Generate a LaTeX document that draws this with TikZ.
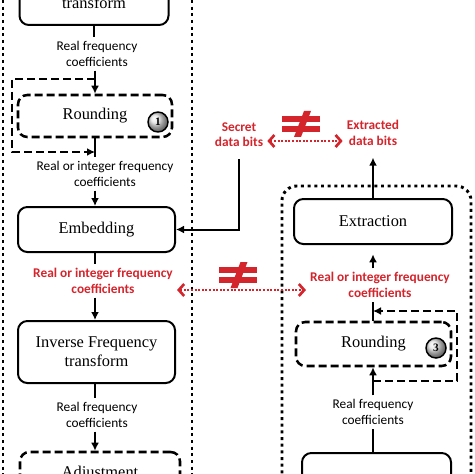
\documentclass[tikz,border=0pt]{standalone}
\usepackage{fontspec}
\setmainfont{Liberation Serif}
\newfontfamily\labelfont{Carlito}
\usetikzlibrary{arrows.meta}
\definecolor{markred}{RGB}{212,36,44}
\tikzset{
    stagebox/.style={
        draw,
        rounded corners=7pt,
        line width=1.5pt, % solid frame
        align=center,
        inner sep=0,
        font=\fontsize{12.3}{14.5}\selectfont
    },
    roundbox/.style={
        stagebox,
        line width=1.9pt,
        dash pattern=on 6pt off 3pt % dashed frame
    },
    coeflabel/.style={
        align=center,
        inner sep=3pt,
        font=\labelfont\fontsize{10}{11.5}\selectfont
    },
    redlabel/.style={
        coeflabel,
        text=markred,
        font=\labelfont\bfseries\fontsize{10}{11.5}\selectfont
    },
    stepnum/.style={
        circle,
        draw,
        line width=1.1pt,
        ball color=gray!22,
        minimum size=15pt,
        inner sep=0,
        font=\bfseries\fontsize{8.5}{8.5}\selectfont
    },
    flow/.style={line width=1.5pt, -{Latex[length=6pt,width=6pt]}},
    link/.style={line width=1.5pt},
    loopline/.style={line width=1.9pt, dash pattern=on 6pt off 3pt, -{Latex[length=6pt,width=6pt]}},
    dotframe/.style={line width=2.2pt, dash pattern=on 2.2pt off 2.8pt},
    compare/.style={
        markred,
        line width=1.5pt,
        dash pattern=on 1.5pt off 1.2pt,
        {Straight Barb[length=4pt,width=9pt,line width=2pt]}-{Straight Barb[length=4pt,width=9pt,line width=2pt]}
    },
    neqmark/.pic={
        \fill[markred] (-19,-8) rectangle (19,-2);
        \fill[markred] (-19,2) rectangle (19,8);
        \fill[markred] (3,-13) -- (10,-13) -- (0,13) -- (-7,13) -- cycle;
    }
}
\begin{document}
\begin{tikzpicture}[x=0.75pt, y=-0.75pt]
    \useasboundingbox (0,0) rectangle (474,474);
    \clip (0,0) rectangle (474,474);
    \coordinate (colL) at (95,0);
    \coordinate (colR) at (373,0);
    % dotted frames of the two sides
    \draw[dotframe] (3,-20) -- (3,500);
    \draw[dotframe] (192,-20) -- (192,500);
    \draw[dotframe, rounded corners=11pt] (282,520) -- (282,186) -- (471,186) -- (471,520);

    % embedding side
    \node[stagebox, minimum width=111.75pt, minimum height=48pt] (ftbox) at (94,-7) {};
    \node[font=\fontsize{12.3}{14.5}\selectfont, inner sep=0] (fttext) at (94,3) {transform};
    \node[coeflabel] (lab1) at (97,54) {Real frequency\\coefficients};
    \node[roundbox, minimum width=115.5pt, minimum height=31.5pt] (round1) at (95,116) {Rounding};
    \node[stepnum] (c1) at (158,122) {1};
    \node[coeflabel] (lab2) at (105,174) {Real or integer frequency\\coefficients};
    \node[stagebox, minimum width=117.75pt, minimum height=33.75pt] (emb) at (96.5,229.5) {Embedding};
    \node[redlabel] (lab3) at (103,281) {Real or integer frequency\\coefficients};
    \node[stagebox, minimum width=117.75pt, minimum height=46.5pt] (ifft) at (96.5,352) {Inverse Frequency\\transform};
    \node[coeflabel] (lab4) at (97,415) {Real frequency\\coefficients};
    \node[roundbox, minimum width=120pt, minimum height=33pt] (adj) at (100,474) {Adjustment};

    % extraction side
    \node[redlabel] (sec) at (239,135) {Secret\\data bits};
    \node[redlabel] (extd) at (373,133) {Extracted\\data bits};
    \node[stagebox, minimum width=118.5pt, minimum height=33.75pt] (ext) at (373,221.5) {Extraction};
    \node[redlabel] (lab5) at (380,285) {Real or integer frequency\\coefficients};
    \node[roundbox, minimum width=116.25pt, minimum height=33pt] (round3) at (373.5,344) {Rounding};
    \node[stepnum] (c3) at (436,348) {3};
    \node[coeflabel] (lab6) at (373,412) {Real frequency\\coefficients};
    \node[stagebox, minimum width=111.75pt, minimum height=48pt] (ftrbox) at (376.5,485) {};

    % connectors, left
    \draw[link] (ftbox.south) -- (ftbox.south |- lab1.north);
    \draw[flow] (lab1.south -| colL) -- (round1.north -| colL);
    \coordinate (loop1in) at (95,79);
    \coordinate (loop1turn) at (12,152);
    \draw[loopline] (loop1in) -| (loop1turn) -- (loop1turn -| colL);
    \draw[link] (round1.south -| colL) -- (lab2.north -| colL);
    \draw[flow] (lab2.south -| colL) -- (emb.north -| colL);
    \draw[link] (emb.south -| colL) -- (lab3.north -| colL);
    \draw[flow] (lab3.south -| colL) -- (ifft.north -| colL);
    \draw[link] (ifft.south -| colL) -- (lab4.north -| colL);
    \draw[flow] (lab4.south -| colL) -- (adj.north -| colL);

    % connectors, right
    \draw[flow, shorten <=6pt] (sec.south) |- (emb.east);
    \draw[flow, shorten >=6pt] (ext.north) -- (ext.north |- extd.south);
    \draw[flow, shorten >=7pt] (lab5.north -| colR) -- (ext.south);
    \draw[link] (round3.north -| colR) -- (lab5.south -| colR);
    \coordinate (loop3in) at (373,381);
    \coordinate (loop3turn) at (457,311);
    \draw[loopline] (loop3in) -| (loop3turn) -- (loop3turn -| colR);
    \draw[flow] (lab6.north -| colR) -- (round3.south -| colR);
    \draw[link] (ftrbox.north -| colR) -- (lab6.south -| colR);

    % not-equal comparisons
    \draw[compare] (sec.east |- 0,141) -- (extd.west |- 0,141);
    \pic at (301,124) {neqmark};
    \draw[compare] (lab3.east |- 0,290) -- (lab5.west |- 0,290);
    \pic at (237.5,275) {neqmark};
\end{tikzpicture}
\end{document}
